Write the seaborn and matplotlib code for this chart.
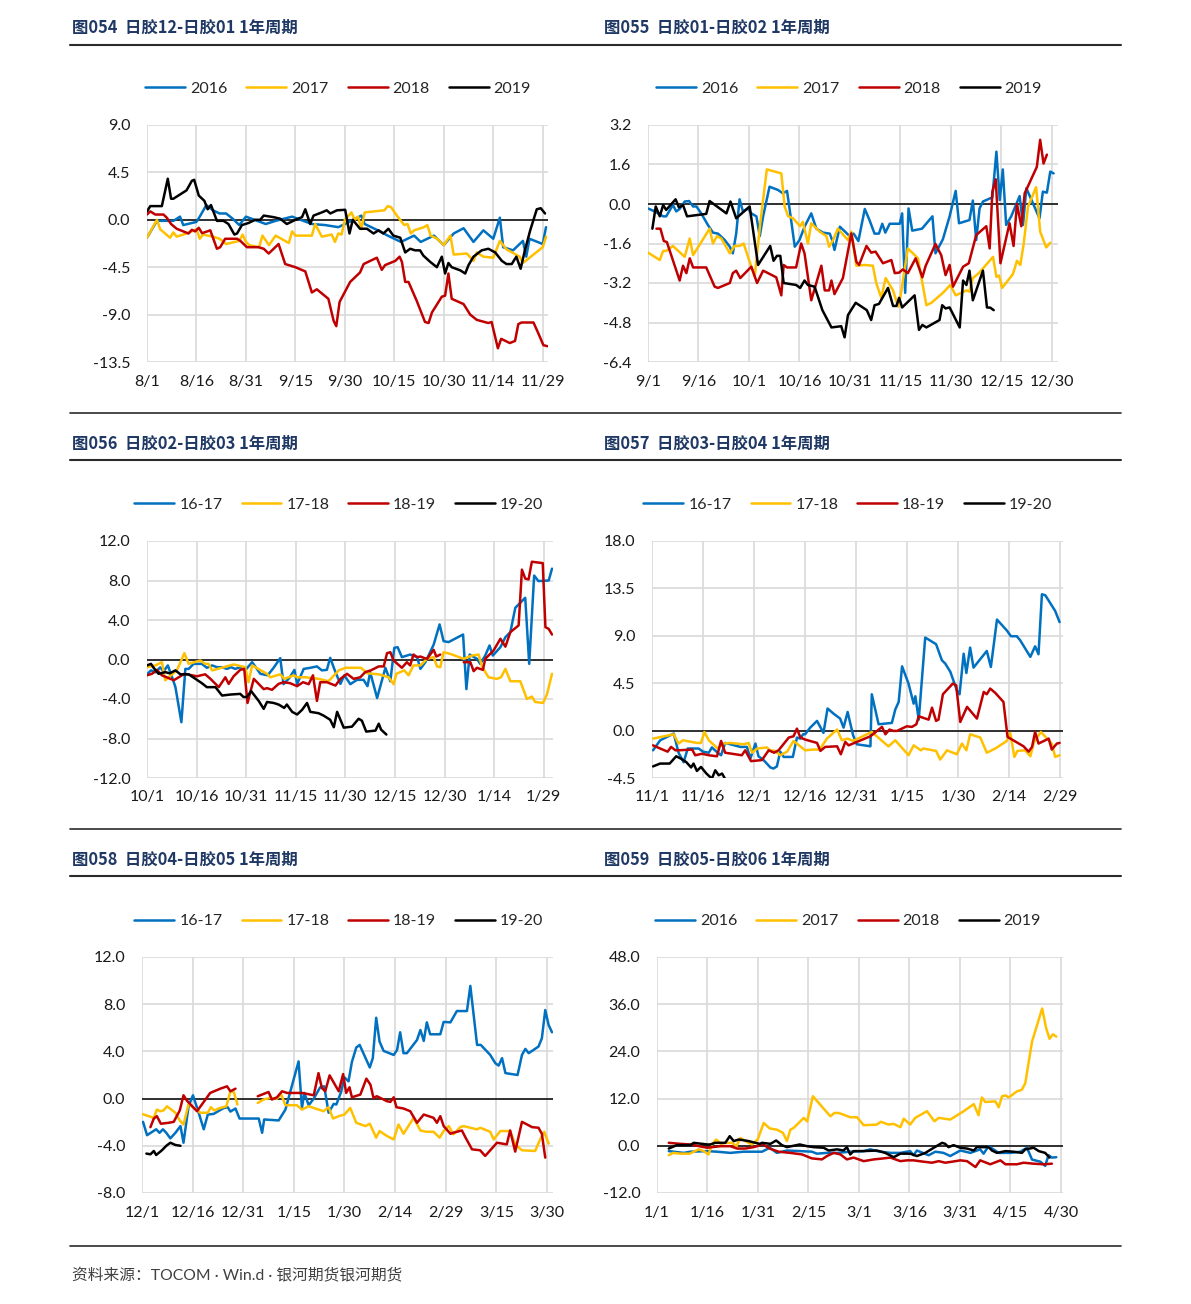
import numpy as np
import pandas as pd
import matplotlib
matplotlib.use("Agg")
import matplotlib.pyplot as plt
from matplotlib.lines import Line2D
import seaborn as sns

sns.set_style("white")
plt.rcParams['font.family'] = ['Lato', 'Noto Sans CJK SC', 'DejaVu Sans']

# ---- data (day offset from first tick, value) ----
years = ['2016', '2017', '2018', '2019']
seasons = ['16-17', '17-18', '18-19', '19-20']
colors = ['#0070C0', '#FFC000', '#C00000', '#000000']

# 图054 日胶12-日胶01
p1_x16 = [0,3,8,10,11,15,16,18,20,22,24,26,28,30,36,39,44,50,54,58,62,65,66,70,73,77,81,83,87,90,93,96,99,102,105,107,108,111,114,115,116,120,121]
p1_y16 = [-1.7,-0.1,-0.1,0.3,-0.5,-0.2,0.3,1.4,0.9,0.6,0.6,0.1,-0.5,0.3,-0.4,-0.1,0.3,-0.4,-0.5,-0.7,-0.1,0.4,-0.4,-1.0,-1.5,-2.1,-1.5,-2.1,-1.5,-2.4,-1.3,-0.8,-2.1,-1.0,-1.8,0.2,-2.6,-2.9,-2.0,-3.5,-1.8,-2.3,-0.7]
p1_x17 = [0,3,4,7,8,9,12,15,16,17,20,22,24,28,29,30,31,34,35,37,39,43,44,45,50,51,53,56,57,58,59,60,62,63,64,65,66,72,73,74,76,78,79,80,81,84,85,86,88,90,92,93,97,99,100,102,105,107,109,113,114,116,118,120,121]
p1_y17 = [-1.7,0,-0.9,-1.7,-1.2,-1.6,-1.3,-0.9,-1.8,-1.4,-1.6,-1.8,-2.3,-2.0,-1.4,-2.1,-2.4,-2.6,-1.5,-2.4,-1.5,-2.2,-1.1,-1.5,-1.5,-0.4,-1.6,-1.4,-2.1,-1.3,-1.4,0,0.7,0,0.3,-0.9,0.7,0.9,1.3,1.2,0.3,-0.5,-0.4,-1.3,-1.0,-0.7,-0.5,-1.5,-1.8,-2.4,-1.5,-3.3,-3.2,-3.9,-3.1,-3.5,-3.6,-2.0,-2.8,-3.5,-4.1,-3.6,-3.1,-2.6,-1.6]
p1_x18 = [0,1,2.5,5,6,7.3,9,12.6,13.6,14.6,15.7,16.7,19.2,21.2,22.2,23.7,27.3,28.3,30.3,33.8,35.4,36.9,39.9,41.9,45,48,50,51.5,55,56.6,57.4,58.4,61.6,64.6,65.7,69.7,71.2,72.2,75.3,76.6,77.3,78.3,79.3,81.8,84.3,85.4,86.4,89.4,90.4,91.4,92.4,96,98,100,103.5,104.5,106.4,107.4,110,111.6,112.6,113.6,117.2,118.7,120.2,121.4]
p1_y18 = [0.5,0.8,0.5,0.5,0.2,-0.4,-0.85,-1.3,-0.95,-1.1,-0.76,-1.27,-1.0,-2.75,-2.6,-1.8,-1.8,-2.0,-2.6,-2.6,-2.75,-3.2,-2.3,-4.2,-4.5,-4.9,-6.9,-6.6,-7.5,-9.6,-10.1,-7.8,-5.9,-5.0,-4.2,-3.6,-4.75,-4.3,-3.9,-3.5,-4.0,-5.9,-5.9,-7.7,-9.7,-9.8,-8.8,-7.3,-7.2,-5.1,-7.5,-8.0,-9.0,-9.5,-9.8,-9.7,-12.2,-11.3,-11.7,-11.5,-9.9,-9.75,-9.75,-10.8,-11.9,-12.0]
p1_x19 = [0,1,4.5,6.3,7.3,8,12,13.6,14.3,15.7,17.4,18.4,19.4,21.2,23.2,24.7,26.5,27.3,28.8,30.8,32.8,34.3,35.4,38.4,40.4,42.4,45,47,48,49.5,50.5,53,54.5,55.6,57.6,60.1,61.4,62.4,64.6,66.7,68.7,70.2,71.7,73.2,74.7,76.8,78.3,79.8,81.3,82.8,83.8,85.9,87.9,89.4,90.4,91.4,92.4,95,96.5,97.5,99,101.5,103.5,105.6,107.6,109,110.6,112,113.3,114.6,116.2,118.2,119.4,120.7]
p1_y19 = [0.8,1.3,1.3,3.9,2.0,2.0,2.8,3.7,3.8,2.3,1.8,1.0,1.4,-0.1,-0.1,-0.4,-1.4,-1.3,-0.5,-0.3,0,0,0.4,0.25,0.1,-0.4,0,0.25,1.0,-0.4,0.4,0.7,0.9,0.6,0.9,0.95,-1.3,0,-0.85,-0.85,-1.3,-1.0,-1.3,-0.85,-1.5,-1.7,-3.1,-2.75,-2.9,-2.9,-3.4,-4.0,-4.5,-3.5,-5.1,-4.1,-4.5,-4.8,-5.1,-4.3,-3.5,-2.9,-2.75,-3.1,-3.9,-4.2,-4.2,-3.5,-4.65,-2.9,-1.0,1.0,1.1,0.6]

# 图055 日胶01-日胶02
p2_x16 = [0,2,4.5,5.4,7.4,8.4,9.4,10.9,12.2,13.4,14.4,15.8,17.8,19.3,20.8,22.8,24.3,25.2,26.2,27.2,28.2,29.7,30.7,32.2,33.2,34.2,36.1,38.6,40.1,41.3,42.1,43.6,45,46.5,48.5,50,52,54,54.7,55.4,57,59.9,61.1,62.5,64.4,65.8,67.3,68.6,69.6,70.5,71.8,74.8,75.5,76.4,77.4,78.5,81.4,84.5,85.4,87.6,89.6,91.4,92.4,95.5,96.5,97.5,98.5,99.5,102.3,103.5,104.5,105.4,106.4,107.9,110.4,111.4,112.4,116.3,117.3,118.5,119.5,120.5]
p2_y16 = [-0.18,-0.3,-0.5,-0.5,-0.04,-0.3,-0.2,0.1,0.12,-0.1,-0.1,-0.38,-0.85,-1.16,-1.2,-1.46,-1.73,-2.0,-1.2,0.19,-0.3,-0.18,-0.38,-0.5,-1.3,-0.5,0.7,0.57,0.43,0.53,-0.24,-1.73,-1.46,-0.92,-0.38,-1.0,-1.16,-1.2,-1.46,-1.86,-0.92,-1.3,-1.2,-1.5,-0.2,-0.65,-1.2,-1.2,-0.8,-1.16,-0.8,-0.8,-0.38,-3.6,-0.18,-1.08,-1.0,-0.5,-2.0,-1.43,-0.5,0.53,-0.78,-0.65,0.14,-1.46,-0.18,0.1,0.27,2.12,0.16,1.4,-0.85,-0.5,0.32,-0.85,0.64,-0.58,0.5,0.46,1.31,1.24]
p2_x17 = [0,3.5,4.5,5.4,7.4,10.9,12.4,13.4,18.3,19.3,20.5,21.8,24.3,25.7,27.2,28.4,31.7,33.4,35.3,39.6,40.6,41.6,43.1,45.2,46,47.5,48.5,51,53,53.8,55,56.4,59.4,60.4,61.9,64.4,66.8,67.8,69.3,70.6,72.8,74.3,75,77.2,80.2,82.7,84.2,87.6,89.8,91.4,94.6,95.5,96.5,98.3,102.5,103.5,104.3,105.2,108.4,109.6,110.6,111.6,112.9,115.3,116.5,118.3,119.5]
p2_y17 = [-1.97,-2.27,-1.9,-1.9,-1.7,-2.14,-1.4,-2.07,-1.0,-1.6,-1.3,-1.4,-2.0,-1.7,-1.7,-1.6,-2.95,-0.72,1.4,1.24,-0.1,-0.49,-0.58,-0.9,-0.72,-1.6,-0.78,-1.12,-1.3,-1.73,-1.46,-1.0,-1.46,-1.12,-2.5,-2.47,-2.5,-3.2,-3.8,-3.0,-3.5,-4.16,-3.75,-1.8,-2.2,-4.1,-4.0,-3.6,-3.28,-3.7,-3.5,-3.55,-3.0,-2.8,-2.14,-2.95,-2.9,-3.4,-2.84,-2.3,-2.47,-1.62,-0.1,0.68,-1.12,-1.76,-1.57]
p2_x18 = [2.5,3.7,4.7,5.6,9.4,10.4,11.4,12.4,13.4,17.3,19.8,20.8,24.3,25.2,26.2,27.4,30.7,32.4,34.2,38.1,39.6,40.3,41.3,44,45.5,46.5,48.5,51.5,52.5,53.8,54.5,55.4,57.9,60.4,61.9,62.7,64.9,66.3,67.6,69.8,72.3,73.3,74.6,75.7,77.2,79.5,81.5,82.5,85.4,87.1,88.4,89.6,90.6,93.6,95.3,97.5,100.5,101.5,102.3,103.3,104.7,107.4,108.6,109.6,110.9,111.9,115.5,116.5,117.5,118.5]
p2_y18 = [-1.0,-1.0,-1.5,-1.54,-3.1,-2.5,-2.8,-2.2,-2.57,-2.57,-3.35,-3.4,-3.2,-2.8,-2.7,-3.0,-2.54,-3.2,-2.7,-2.97,-3.7,-2.47,-2.57,-2.57,-1.6,-2.0,-3.9,-2.5,-3.5,-3.5,-3.1,-3.65,-3.0,-1.19,-2.34,-2.47,-1.7,-1.97,-1.93,-2.4,-2.27,-2.8,-2.78,-2.65,-2.8,-2.2,-2.97,-2.5,-1.62,-2.07,-2.88,-2.47,-3.35,-2.54,-2.4,-1.26,-0.9,-1.8,0.5,1.0,-2.4,-0.78,-1.7,0,-0.9,0.43,1.5,2.6,1.64,2.0]
p2_x19 = [1.3,2.3,3.5,4.5,5.4,8.2,9.2,10.4,11.6,17.3,18.3,23.3,24.5,26.2,30.2,32.7,36.3,37.3,38.3,39.3,40.3,44,45.2,46.5,47.5,49.5,51.8,54.5,57.4,58.4,59.4,61.7,65,66.3,67.3,68.6,71.3,72.8,73.8,74.6,75.5,79.2,80.5,81.5,82.7,86.6,87.4,88.4,89.6,92.6,93.6,94.6,95.5,96.5,99.5,100.7,101.7,102.7]
p2_y19 = [-1.0,-0.1,-0.5,-0.04,-0.24,0.19,-0.14,-0.04,-0.5,-0.4,0.12,-0.38,0.1,-0.58,-0.1,-2.47,-1.7,-2.3,-2.1,-2.1,-3.2,-3.28,-3.4,-3.1,-3.28,-3.35,-4.3,-5.0,-4.95,-5.4,-4.5,-4.0,-4.3,-4.7,-4.1,-4.05,-3.4,-4.13,-4.13,-3.8,-4.19,-3.7,-5.1,-4.9,-5.0,-4.7,-4.1,-4.23,-4.19,-5.0,-3.1,-3.28,-2.7,-3.9,-2.7,-4.19,-4.2,-4.3]

# 图056 日胶02-日胶03
p3_x16 = [0,1.2,2.5,4,5,6.3,7.6,8.6,10.4,11.6,12.6,14.1,16.6,18.1,19.7,21.2,22.7,24.2,25.4,26.7,28.2,29.7,31.8,34.3,36.5,38.3,40.3,41.3,43.1,44.6,45.4,47.4,49.4,51.4,52.9,54.4,55.4,57,58.5,59.7,61.5,63.5,65.5,66.7,67.5,69.6,72.1,73.6,74.8,75.8,77.1,79.6,81.7,82.7,84.2,86.7,88.5,89.7,91.2,95.6,96.6,97.6,99.8,100.8,102.3,103.6,104.6,106.9,108.4,109.9,111.4,114.4,115.6,117.1,118.4,121.5,122.5]
p3_y16 = [-1.5,-1.1,-1.3,-0.8,-1.2,-0.6,-1.8,-2.8,-6.35,-0.95,-0.95,-0.44,-0.44,-0.84,-0.6,-0.78,-0.78,-0.95,-0.78,-0.95,-0.78,-1.1,-0.27,-1.45,-1.6,-0.84,0.14,-2.5,-1.85,-1.05,-2.5,-0.95,-0.84,-0.7,-1.1,-1.05,0.17,-1.28,-2.47,-1.6,-2.5,-2.06,-2.06,-2.7,-1.28,-3.9,-0.84,-2.2,1.18,1.25,0.24,0.5,0.24,-0.95,-0.27,1.5,3.55,1.86,1.76,2.53,-3.0,0.5,0.07,-0.44,0.4,1.42,0.4,1.25,2.26,2.77,5.24,6.25,-0.44,8.5,7.94,8.0,9.2]
p3_x17 = [0,2.5,4.5,5.5,7.6,9.1,11.3,12.6,16.1,17.6,18.6,19.7,23.2,26.2,29.7,30.7,31.8,36.3,37.3,40.3,41.5,44.4,45.4,47.9,51.9,54.9,58,60,64.7,66.7,70.1,73.1,74.6,75.4,77.8,79.1,80.6,82.7,84.7,86.7,87.7,88.7,89.7,91.7,95.8,98.3,100.3,101.3,103.3,105.8,107.1,108.4,109.9,112.9,114.9,116.4,117.4,119.8,121,122.5]
p3_y17 = [-0.78,-0.6,-0.27,-2.1,-1.5,-1.05,0.64,-0.44,-0.1,-0.44,-0.44,-1.1,-0.78,-0.5,-0.78,-2.3,-0.6,-1.45,-1.8,-1.5,-1.96,-1.6,-1.8,-1.8,-1.96,-2.2,-1.1,-0.84,-0.84,-1.4,-1.5,-1.8,-2.5,-1.45,-1.1,-1.6,-0.6,-0.6,0.07,0.24,-0.7,-0.78,0.74,0.57,0.07,0.4,0.5,-0.7,-1.8,-1.96,-1.8,-0.95,-2.2,-2.2,-4.0,-3.75,-4.3,-4.4,-3.5,-1.45]
p3_x18 = [0,1.5,3,4.5,8.1,9.6,11.3,15.1,17.6,19.2,21.7,23.7,24.7,26.2,28.2,29.4,30.4,32.3,35.3,36.3,37.8,39.8,41.3,43.3,45.4,47.2,48.9,50.2,51.4,52.4,54.4,57,58.5,60.5,62.5,64.5,66,67.7,70.1,71.6,72.6,73.6,74.6,77.1,78.6,79.6,80.6,81.7,82.7,83.7,84.7,86.7,87.5,88.7,92,95.8,97.8,98.8,99.8,101.6,102.3,104.8,106.9,108.4,109.9,112.4,113.4,114.4,115.4,116.4,119.7,120.5,121.5,122.5]
p3_y18 = [-1.6,-1.45,-1.05,-1.6,-2.1,-1.8,-1.45,-1.7,-1.5,-1.96,-2.8,-1.8,-2.47,-1.7,-1.05,-0.95,-4.4,-1.96,-3.0,-2.9,-3.07,-2.47,-2.3,-2.4,-2.7,-2.3,-2.5,-1.6,-4.2,-2.3,-2.3,-2.64,-1.96,-1.45,-1.96,-1.8,-1.28,-1.1,-0.7,-0.7,0.64,0.74,-0.1,-0.84,-0.27,-0.6,0.5,0.24,0.3,0.17,0.07,0.98,0.3,0.5,np.nan,-0.27,-0.27,-1.18,-0.84,-1.05,0.07,0.9,2.1,1.3,2.77,3.45,9.1,8.2,8.1,9.9,9.76,3.28,3.1,2.53]
p3_x19 = [0,1.2,2,3.5,5.5,6.9,8.6,10.1,12.6,15.1,16.6,18.1,20.7,22.7,25.2,28.2,29.2,30.2,31.5,33.8,35.3,36.3,38.3,39.8,41.5,42.3,43.9,45.4,46.9,48.4,49.4,51.9,53.4,55.4,56.5,57.5,59.5,62,64,65,66.3,69.1,70.1,70.8,72.4]
p3_y19 = [-0.6,-0.44,-0.84,-1.45,-1.28,-1.4,-1.1,-1.5,-1.5,-2.06,-2.4,-2.8,-2.8,-3.65,-3.55,-3.48,-3.8,-3.8,-3.2,-4.2,-5.0,-4.3,-4.4,-4.56,-4.9,-4.56,-5.3,-5.57,-5.1,-4.4,-5.3,-5.44,-5.68,-6.1,-6.86,-5.3,-6.9,-6.8,-6.0,-6.2,-7.3,-7.2,-6.5,-7.1,-7.6]

# 图057 日胶03-日胶04
p4_x16 = [0.3,2.4,6.4,7.8,9.3,10.5,12.2,13.7,15,16.7,17.6,19.3,20.3,21.5,26,27.9,28.9,30.4,31.3,32.8,34.8,35.7,36.7,37.7,38.7,41.4,42.6,43.6,44.4,45,46.5,48.5,50.4,51.6,53.4,55.3,56.3,57.5,59.1,60.2,64.2,64.6,66.6,70.5,71.5,72.5,73.5,75.4,76.9,77.4,78.4,80.3,81.3,83.5,85.2,86.2,87.7,89.6,90.4,91.6,92.4,93.5,94.5,98.4,99.6,101.4,104.3,105.5,107.2,108.2,111.2,112.6,113.6,114.6,115.6,118.5,119.8]
p4_y16 = [-1.87,-0.92,-0.28,-2.1,-3.0,-1.7,-1.7,-1.7,-2.0,-2.1,-1.6,-2.1,-2.34,-1.17,-1.55,-1.55,-2.66,-1.23,-2.44,-2.8,-3.5,-3.6,-3.4,-2.0,-2.5,-2.5,-0.66,-0.76,-0.35,-0.35,0.28,0.92,-0.22,2.1,1.6,1.14,0.28,1.77,-0.44,-1.3,-1.49,3.45,0.6,0.73,2.0,2.72,6.1,4.46,2.56,3.26,1.04,8.83,8.64,8.2,6.68,6.36,5.57,3.83,3.45,7.3,5.47,7.88,5.98,7.56,6.04,10.54,9.5,8.96,8.96,8.58,7.0,8.0,7.25,12.94,12.85,11.36,10.3]
p4_x17 = [0.3,6.4,7.8,9.1,13.2,14.4,15.4,16.7,19.3,20.9,23,26.9,28.4,29.4,30.9,33.8,34.6,36.2,37.7,39.7,41.6,45,47.5,49.3,51.4,54.4,55.8,57.5,59.1,64.6,69.5,71.5,75.4,76.9,79,79.8,83.5,84.7,86.7,89.6,91.1,92.4,93.5,96.5,98.4,100.9,104.3,105.3,106.5,107.4,109.7,111.2,112.3,114.3,117.5,118.5,119.8]
p4_y17 = [-0.76,-0.35,-1.23,-0.92,-1.17,-1.17,-0.13,-0.92,-1.7,-1.23,-1.17,-1.3,-1.17,-2.1,-1.7,-1.6,-1.87,-1.93,-2.34,-2.0,-0.98,-1.87,-1.8,-1.8,-0.76,0.1,-0.92,-0.76,-0.98,-0.13,-1.5,-0.92,-2.34,-1.4,-1.87,-1.7,-1.93,-2.75,-1.87,-2.25,-1.23,-1.87,-0.35,-0.66,-2.1,-1.7,-0.98,-0.22,-2.5,-1.93,-1.87,-2.44,-1.08,-0.13,-1.23,-2.5,-2.34]
p4_x18 = [0.3,2.4,4.6,5.6,6.9,7.8,11.8,12.7,14.7,16.7,19.1,20.3,21.5,26.4,27.4,29.1,32.3,34.3,35.9,37.2,40.2,41.6,42.6,43.6,45,48.5,49.5,50.9,54.4,55.5,56.8,57.8,64.2,67.6,68.6,69.8,71,72,74.9,76.4,77.7,78.4,81.3,82.3,83.5,84.2,85.5,88.4,89.4,90.6,92.6,95.5,97.5,98.4,99.4,100.9,103.3,104.5,105.8,109.2,110.7,111.7,112.6,113.6,116.6,117.5,119,119.8]
p4_y18 = [-1.4,-1.7,-2.0,-1.55,-1.87,-1.87,-1.8,-2.34,-2.2,-2.34,-2.44,-0.98,-2.1,-2.34,-1.87,-2.9,-2.8,-1.87,-2.1,-1.87,-0.66,-0.54,0.19,-0.66,-0.85,-1.17,-1.93,-1.55,-1.49,-2.25,-1.08,-1.4,-0.54,0.35,-0.35,0.1,-0.03,-0.03,0.41,0.35,0.6,1.36,1.04,2.18,0.92,1.04,3.45,4.46,4.3,0.82,2.25,1.14,3.67,3.45,3.99,3.58,2.72,-0.6,-0.85,-1.49,-2.0,-1.55,-0.13,-1.23,-0.76,-1.8,-1.23,-1.17]
p4_x19 = [0.3,2.4,5.2,7.1,8.5,10.1,11.5,12.2,13.2,14.4,16,17.6,18.6,19.6,20.6,21.5]
p4_y19 = [-3.4,-3.13,-3.13,-2.44,-2.66,-3.0,-3.5,-3.13,-3.83,-3.45,-4.08,-4.56,-3.77,-4.24,-4.08,-4.6]

# 图058 日胶04-日胶05
p5_x16 = [0.3,1.5,4.2,5.2,6.2,7.2,8.4,9.9,11.4,12.3,13.8,15.1,16.8,18.3,19.5,21.2,24.2,25.4,26.2,27.7,28.9,34.6,35.6,36.2,40.5,42.5,46.4,47.4,48.1,49.4,50.9,52.8,54,55.3,56.8,57.6,59,60,61.2,62.2,63.5,64.5,67.5,68.4,69.4,70.4,71.6,74.6,75.6,76.5,77.5,78.5,80,81.5,82.5,83.5,84.4,85.4,88.4,89.4,91.4,93.3,96.3,97.3,99.3,100.4,103.2,104.7,105.7,106.7,107.7,111.3,112.6,113.6,114.6,117.5,118.5,119.5,120.5,121.5]
p5_y16 = [-1.97,-3.1,-2.6,-2.9,-2.6,-2.9,-3.37,-2.9,-2.33,-3.74,-0.65,0.28,-1.2,-2.6,-1.35,-1.3,-0.8,-0.73,-1.1,-0.84,-1.69,-1.69,-2.9,-1.77,-1.85,-0.93,3.15,-0.8,0.48,-0.56,0,0.96,1.04,-1.2,-0.45,-0.5,0.56,1.8,1.46,3.1,4.33,4.55,2.64,3.43,6.85,4.83,4.04,3.7,4.13,5.62,3.85,3.85,4.41,4.97,5.81,4.89,6.46,5.45,5.45,6.5,6.46,7.42,7.42,9.55,4.55,4.55,3.7,3.0,2.8,3.43,2.16,2.0,3.7,4.21,3.85,4.41,5.11,7.5,6.24,5.62]
p5_x17 = [0,3.5,4.4,5.4,6.4,7.4,9.9,11.2,12.3,13.8,15.1,17.3,19.5,20.4,21.4,22.7,25,26.2,27.2,28.3,31,34.3,36,38,40,41.2,42.5,45.9,47.4,49.4,53.8,55.3,56.6,58.3,60,61.7,63.5,66.2,67.5,69.4,70.4,72.6,74.6,76,77.5,80.5,82.5,84.2,86.4,88.2,89.4,90.9,92.3,94.3,95.3,99.3,100.2,103.2,104.2,106.2,109.1,110.6,112.6,116.5,118,119.2,120.5]
p5_y17 = [-1.3,-1.63,-0.93,-1.07,-1.0,-0.65,-1.2,-1.85,-2.2,-0.45,-0.73,-1.2,-1.2,-0.73,-1.0,-0.84,-0.65,0.62,0.56,-0.5,np.nan,-0.37,-0.08,0.06,0,0.39,-0.56,-0.56,-0.93,-0.65,-1.07,-0.73,-1.69,-1.49,-1.35,-0.79,-2.05,-2.33,-2.13,-3.31,-2.75,-3.17,-3.46,-2.19,-2.98,-1.63,-2.7,-2.81,-2.81,-3.31,-2.75,-2.33,-3.03,-2.42,-2.33,-2.61,-2.47,-2.81,-3.46,-2.75,-2.75,-3.88,-4.38,-4.44,-3.46,-2.81,-3.82]
p5_x18 = [2.5,3.5,4.4,5.6,7.9,9.4,11.2,12.3,13.3,16.3,18.3,20.2,23.2,25.2,26.2,27.7,31,34.3,37.5,38.5,40,41.5,43,44.9,47.4,48.9,50.9,52.3,53.3,54.3,55.6,58.3,59.6,60.5,61.5,62.2,64.7,66.5,67.7,68.6,69.6,72.6,73.6,74.6,75.4,77.5,79.5,81.5,83.5,86.4,87.4,88.4,89.4,91.4,92.3,94.8,95.8,97.8,100.2,101.7,105.2,108.1,109.1,110.6,112.6,114.1,115.6,117.5,118.5,119.5]
p5_y18 = [-2.42,-1.69,-1.49,-2.13,-2.05,-1.97,-1.0,0.28,-0.17,-1.07,-0.28,0.48,0.84,1.04,0.62,0.84,np.nan,0.2,0.56,-0.08,0.11,0.62,0.48,0.48,0.48,0.4,0.28,2.16,0.9,0.62,1.97,0.62,2.08,0.48,0.96,0.11,0.34,1.69,1.18,0.06,0.2,-0.22,-0.28,0.11,-0.73,-0.84,-1.07,-2.05,-1.35,-1.63,-2.05,-1.49,-2.33,-2.98,-2.89,-2.7,-3.26,-4.3,-4.38,-4.86,-3.74,-3.88,-2.7,-4.49,-1.97,-2.19,-2.42,-2.47,-2.98,-5.0]
p5_x19 = [1.3,2.5,3.5,4.2,5.9,7.2,8.4,9.9,11.4]
p5_y19 = [-4.66,-4.72,-4.44,-4.78,-4.38,-4.0,-3.74,-3.93,-4.0]

# 图059 日胶05-日胶06
p6_x16 = [3.5,7.9,9.9,15,17.8,21.8,25.7,31.2,33.5,35.6,38.6,42.6,46,47.5,50.5,53.5,57.4,61.4,63.4,65.3,69.3,72.3,75.2,76.2,77.2,80.7,82.7,85.1,87.1,90.1,93.1,96,97,98.5,101.5,105,107.9,109.9,111.4,113.9,115.3,116.3,117.3,118.6]
p6_y16 = [-1.35,-1.8,-1.5,-1.35,-1.5,-1.8,-1.5,-1.5,-0.5,-1.8,-1.2,-1.35,-1.5,-2.0,-1.8,-1.8,-1.5,-1.35,-0.9,-1.35,-1.8,-1.8,-1.35,-2.4,-1.2,-2.4,-1.5,-1.8,-2.6,-1.2,-1.8,-0.9,-2.0,-0.1,-1.8,-1.8,-1.5,-0.5,-3.5,-4.05,-5.1,-2.4,-3.0,-2.9]
p6_x17 = [3.5,4.8,6.9,9.7,12.4,13.9,15.3,16.3,17.6,19,20.3,22.3,23.6,24.8,26.2,28.2,29.9,31.7,33.5,35.6,37.4,38.6,39.6,40.6,43.6,44.6,46.3,51.5,52.7,54,57.4,59.4,61.4,65.3,66.5,68.8,70.3,72.3,73.3,75.2,76.7,80.2,82.4,83.7,87.1,91.1,94.1,95.5,96.5,97.5,100.5,101.5,102.5,103.5,104.5,106.9,108.4,109.4,111.4,114.4,115.6,116.6,117.6,118.6]
p6_y17 = [-2.4,-1.8,-2.0,-2.0,-0.9,-1.35,-2.2,0.34,1.6,0.5,0.76,0.76,-0.1,2.0,1.2,0.34,1.6,5.8,4.4,4.1,3.3,1.2,4.1,4.55,7.1,6.2,12.6,7.5,8.35,8.35,7.26,7.26,5.23,5.4,6.1,5.4,5.57,4.73,6.9,5.4,7.1,8.8,6.24,7.1,6.67,8.8,10.6,7.76,12.3,11.14,11.3,9.8,12.6,12.8,12.3,13.84,14.26,15.95,26.5,34.9,29.9,27.2,28.35,27.76]
p6_x18 = [3.5,6.9,9.9,14.9,18.8,21.8,23.8,26.2,28.7,29.7,31.2,33.5,36.1,39.6,43.1,46,49,50.5,52.5,54.5,56.4,58.4,61.4,64.4,67.3,69.3,72.3,74.3,76.2,79.2,81.7,83.7,85.6,87.6,90.1,92.1,94.6,96,99,102,103.5,106.9,108.9,111.9,114.9,117.3]
p6_y18 = [0.76,0.5,0.34,-0.5,-0.1,-0.1,-0.7,-0.7,-0.34,-0.1,0.5,-0.7,-1.5,-1.8,-2.2,-3.2,-3.46,-2.6,-1.8,-2.2,-3.46,-3.0,-3.9,-3.46,-3.2,-3.0,-3.9,-3.7,-3.7,-4.05,-4.3,-3.9,-4.3,-4.05,-3.7,-3.9,-5.4,-3.7,-4.7,-3.7,-4.7,-4.7,-4.3,-4.55,-4.7,-4.55]
p6_x19 = [3.5,5.9,9.9,10.9,14.9,15.8,17.3,20.3,21.6,22.8,24.3,27.2,29.2,30.5,31.2,33.7,35.4,37.1,38.6,42.4,44.6,46.5,49.5,51,53.5,55.4,56.4,57.4,58.4,61.4,65.3,67.8,70.3,72.3,75.2,77.2,79.7,82.2,84.7,85.6,86.6,88.1,90.1,92.1,94.1,95,98.5,99.5,101,103.5,105.9,108.4,109.4,111.9,113.4,115.3,116.6]
p6_y19 = [-0.7,0.17,0.17,0.76,0.34,0.34,0.76,0.76,2.45,1.2,1.6,1.2,0.76,0.5,0.76,0.5,1.35,0.17,-0.34,0.34,-0.1,-0.34,-0.5,-1.2,-0.9,-1.2,-0.34,-2.2,-1.35,-1.35,-1.2,-1.8,-2.9,-2.0,-2.0,-2.6,-1.8,-0.5,0.76,0.5,-0.34,0.17,-0.5,-0.7,-1.2,-0.34,-0.34,-1.2,-1.8,-1.35,-1.5,-1.8,-0.9,-0.5,-1.35,-1.8,-3.0]

# tick labels
p1_xlabels = ['8/1', '8/16', '8/31', '9/15', '9/30', '10/15', '10/30', '11/14', '11/29']
p2_xlabels = ['9/1', '9/16', '10/1', '10/16', '10/31', '11/15', '11/30', '12/15', '12/30']
p3_xlabels = ['10/1', '10/16', '10/31', '11/15', '11/30', '12/15', '12/30', '1/14', '1/29']
p4_xlabels = ['11/1', '11/16', '12/1', '12/16', '12/31', '1/15', '1/30', '2/14', '2/29']
p5_xlabels = ['12/1', '12/16', '12/31', '1/15', '1/30', '2/14', '2/29', '3/15', '3/30']
p6_xlabels = ['1/1', '1/16', '1/31', '2/15', '3/1', '3/16', '3/31', '4/15', '4/30']

p1_yticks = [-13.5, -9.0, -4.5, 0.0, 4.5, 9.0]
p2_yticks = [-6.4, -4.8, -3.2, -1.6, 0.0, 1.6, 3.2]
p3_yticks = [-12, -8, -4, 0, 4, 8, 12]
p4_yticks = [-4.5, 0.0, 4.5, 9.0, 13.5, 18.0]
p5_yticks = [-8, -4, 0, 4, 8, 12]
p6_yticks = [-12, 0, 12, 24, 36, 48]

titles = ['图054  日胶12-日胶01 1年周期', '图055  日胶01-日胶02 1年周期',
          '图056  日胶02-日胶03 1年周期', '图057  日胶03-日胶04 1年周期',
          '图058  日胶04-日胶05 1年周期', '图059  日胶05-日胶06 1年周期']

# ---- figure ----
W, H = 1191, 1304
fig = plt.figure(figsize=(W / 100, H / 100), dpi=100)
fig.patch.set_facecolor('white')


def px_axes(left, top, right, bottom):
    return fig.add_axes([left / W, 1 - bottom / H, (right - left) / W, (bottom - top) / H])


def draw_panel(ax, series, labels, xmax, xlabels, yticks, legend_x):
    frames = []
    for lab, (xs, ys) in zip(labels, series):
        d = pd.DataFrame({'day': xs, 'value': ys})
        d['series'] = lab
        d['unit'] = lab + '_' + d['value'].isna().cumsum().astype(str)
        frames.append(d.dropna())
    df = pd.concat(frames, ignore_index=True)
    ax.axhline(0, color='black', lw=1.1, zorder=1.5)
    sns.lineplot(data=df, x='day', y='value', hue='series', units='unit',
                 estimator=None, sort=False, palette=dict(zip(labels, colors)),
                 linewidth=1.8, legend=False, ax=ax, zorder=2)
    ax.set_xlim(0, xmax)
    ax.set_ylim(yticks[0], yticks[-1])
    ax.set_xticks(range(0, 121, 15))
    ax.set_xticklabels(xlabels)
    ax.set_yticks(yticks)
    ax.set_yticklabels([f'{v:.1f}' for v in yticks])
    ax.set_xlabel('')
    ax.set_ylabel('')
    ax.grid(True, color='#D9D9D9', lw=1.2)
    ax.set_axisbelow(True)
    for s in ax.spines.values():
        s.set_visible(False)
    ax.tick_params(axis='both', length=0, labelsize=11.5, colors='#1a1a1a')
    ax.tick_params(axis='x', pad=9)
    ax.tick_params(axis='y', pad=12)
    handles = [Line2D([0], [0], color=c, lw=1.8) for c in colors]
    ax.legend(handles, labels, loc='center', bbox_to_anchor=(legend_x, 1.152), ncol=4,
              frameon=False, fontsize=11.5, handlelength=2.5, handletextpad=0.3,
              columnspacing=1.2)


panels = [
    ((147, 125, 548, 362), [(p1_x16, p1_y16), (p1_x17, p1_y17), (p1_x18, p1_y18), (p1_x19, p1_y19)], years, 121.6, p1_xlabels, p1_yticks, 338),
    ((648, 125, 1058, 362), [(p2_x16, p2_y16), (p2_x17, p2_y17), (p2_x18, p2_y18), (p2_x19, p2_y19)], years, 121.8, p2_xlabels, p2_yticks, 849),
    ((147, 541, 553, 778), [(p3_x16, p3_y16), (p3_x17, p3_y17), (p3_x18, p3_y18), (p3_x19, p3_y19)], seasons, 122.8, p3_xlabels, p3_yticks, 339),
    ((652, 541, 1063, 778), [(p4_x16, p4_y16), (p4_x17, p4_y17), (p4_x18, p4_y18), (p4_x19, p4_y19)], seasons, 120.8, p4_xlabels, p4_yticks, 848),
    ((142, 957, 553, 1193), [(p5_x16, p5_y16), (p5_x17, p5_y17), (p5_x18, p5_y18), (p5_x19, p5_y19)], seasons, 121.8, p5_xlabels, p5_yticks, 339),
    ((657, 957, 1063, 1193), [(p6_x16, p6_y16), (p6_x17, p6_y17), (p6_x18, p6_y18), (p6_x19, p6_y19)], years, 120.6, p6_xlabels, p6_yticks, 848),
]

for rect, series, labels, xmax, xlabels, yticks, lx in panels:
    ax = px_axes(*rect)
    left, top, right, bottom = rect
    draw_panel(ax, series, labels, xmax, xlabels, yticks, (lx - left) / (right - left))

# titles
title_pos = [(72, 28), (604, 28), (72, 444), (604, 444), (72, 860), (604, 860)]
for t, (x, y) in zip(titles, title_pos):
    fig.text(x / W, 1 - y / H, t, ha='left', va='center', fontsize=11.8,
             fontweight='bold', color='#1F3864', family=['Noto Sans CJK SC', 'DejaVu Sans'])

# separator lines
for y, lw in [(45, 1.5), (413, 1.2), (460, 1.5), (829, 1.2), (876, 1.5), (1246, 1.2)]:
    fig.add_artist(Line2D([70 / W, 1121 / W], [1 - y / H, 1 - y / H], color='#2b2b2b', lw=lw))

fig.text(72 / W, 1 - 1275 / H, '资料来源：TOCOM · Win.d · 银河期货银河期货', ha='left', va='center',
         fontsize=11.3, color='#404040', family=['Lato', 'Noto Sans CJK SC', 'DejaVu Sans'])

fig.savefig('out.png', dpi=100)
